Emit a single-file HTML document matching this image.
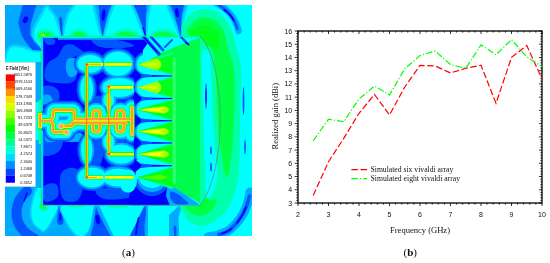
<!DOCTYPE html>
<html><head><meta charset="utf-8"><title>Figure</title>
<style>
html,body{margin:0;padding:0;background:#fff;}
svg{display:block;}
.tk{font-family:"Liberation Sans",sans-serif;font-size:7px;fill:#111;}
.lg{font-family:"Liberation Serif",serif;font-size:8.2px;fill:#111;}
.ax{font-family:"Liberation Serif",serif;font-size:9px;fill:#111;}
.cap{font-family:"Liberation Serif",serif;font-size:11px;fill:#111;}
.lt{font-family:"Liberation Sans",sans-serif;font-size:3.9px;fill:#111;}
.lh{font-family:"Liberation Sans",sans-serif;font-size:4.6px;font-weight:bold;fill:#111;}
</style></head><body>
<svg width="550" height="263" viewBox="0 0 550 263">
<defs>
<clipPath id="fc"><rect x="5" y="5" width="247" height="231"/></clipPath>
<clipPath id="sc"><rect x="41" y="36" width="159" height="169.5"/></clipPath>
<filter id="b0" x="-5%" y="-5%" width="110%" height="110%"><feGaussianBlur stdDeviation="0.45"/></filter>
<filter id="b1" x="-20%" y="-20%" width="140%" height="140%"><feGaussianBlur stdDeviation="0.6"/></filter>
<filter id="b2" x="-20%" y="-20%" width="140%" height="140%"><feGaussianBlur stdDeviation="1.2"/></filter>
</defs>
<rect width="550" height="263" fill="#fff"/>
<g clip-path="url(#fc)">
<g filter="url(#b0)">
<rect x="0" y="0" width="260" height="245" fill="#00ffff" />
<path d="M0 0C7.8 -10.7 39.7 -1.5 47 0C54.3 1.5 45.3 5.9 44 9C42.7 12.1 40.6 16 39.2 18.7C37.8 21.4 36.5 23.1 35.5 25C34.5 26.9 33.9 28 33.5 30C33.1 32 32.8 34.8 33.2 37C33.6 39.2 34.6 40.9 36 43C37.4 45.1 41.3 48.5 41.5 49.8C41.7 51.1 38.5 50.9 37 51C35.5 51.1 34.7 51.2 32.4 50.6C30.1 50 26.7 48 23.3 47.2C19.9 46.4 14.5 45.4 11.8 46C9.1 46.6 8.4 48.6 7.3 50.6C6.2 52.6 6.2 55.8 5 58C3.8 60.2 0.8 73.7 0 64C-0.8 54.3 -7.8 10.7 0 0Z" fill="#00aaff" stroke="#00d4ff" stroke-width="2.4" stroke-linejoin="round"/>
<path d="M23.8 3L36.5 3L33 14L30 25L29.6 35L33.4 41L39.2 47.2L41 50.2L32.4 49.5L26 42L22 35L18.7 22.7Z" fill="#0055ff" stroke="#0055ff" stroke-width="1" stroke-linejoin="round"/>
<ellipse cx="25.5" cy="19.8" rx="2.5" ry="3.6" fill="#0000ff" transform="rotate(24 25.5 19.8)"/>
<rect x="0" y="186" width="36" height="60" fill="#00aaff" />
<path d="M48 3C51.1 0.8 70.1 1.2 73.4 3C76.7 4.8 69.5 10.2 68 14C66.5 17.8 65.5 22.3 64.6 26C63.7 29.7 62.9 34.7 62.4 36.4C61.9 38.1 62.2 38 61.6 36.4C61 34.8 60.1 30.4 59 27C57.9 23.6 56.8 20 55 16C53.2 12 44.9 5.2 48 3Z" fill="#00aaff" stroke="#00d4ff" stroke-width="2.4" stroke-linejoin="round"/>
<path d="M60 17C60.4 16.3 61.6 16.8 62 20C62.4 23.2 62.7 33.3 62.6 36C62.5 38.7 62.1 38 61.6 36C61.1 34 59.9 27.2 59.6 24C59.3 20.8 59.6 17.7 60 17Z" fill="#0055ff" />
<path d="M95 3C97.8 0.8 110.7 0.7 113 3C115.3 5.3 110.2 12.7 109 17C107.8 21.3 106.5 25.8 105.5 29C104.5 32.2 103.7 35.2 103.2 36.4C102.7 37.6 103.1 37.8 102.4 36.4C101.7 35 100.1 31.4 99 28C97.9 24.6 96.7 20.2 96 16C95.3 11.8 92.2 5.2 95 3Z" fill="#00aaff" stroke="#00d4ff" stroke-width="2.4" stroke-linejoin="round"/>
<path d="M99.6 3C101.5 1.2 109.3 1 110.6 3C111.9 5 108.6 10.8 107.6 15C106.6 19.2 105.4 24.5 104.6 28C103.8 31.5 103.4 34.8 103 36.2C102.6 37.6 102.8 37.9 102.4 36.2C102 34.5 101.1 29.7 100.6 26C100.1 22.3 99.6 17.8 99.4 14C99.2 10.2 97.7 4.8 99.6 3Z" fill="#0055ff" />
<ellipse cx="103.6" cy="14.9" rx="1.9" ry="6" fill="#0000ff" transform="rotate(6 103.6 14.9)"/>
<path d="M132.5 3C134.8 1.2 147 0.5 149.5 3C152 5.5 148.1 13.5 147.6 18C147.1 22.5 146.7 26.9 146.4 30C146.1 33.1 146 35.3 145.8 36.4C145.6 37.5 145.8 38 145 36.4C144.2 34.8 142.5 30.7 141 27C139.5 23.3 137.4 18 136 14C134.6 10 130.2 4.8 132.5 3Z" fill="#00aaff" stroke="#00d4ff" stroke-width="2.4" stroke-linejoin="round"/>
<path d="M134 3C135.4 1.5 143.6 0.5 145.6 3C147.6 5.5 145.8 12.5 145.8 18C145.8 23.5 145.9 33.2 145.8 36.2C145.7 39.2 145.7 38.2 145 36.2C144.3 34.2 142.9 28 141.6 24C140.3 20 138.3 15.5 137 12C135.7 8.5 132.6 4.5 134 3Z" fill="#0055ff" />
<path d="M142.4 27.8C142.2 26.5 143.5 26.7 144 28C144.5 29.3 145.4 34.3 145.6 35.6C145.8 36.9 145.5 37.1 145 35.8C144.5 34.5 142.6 29.1 142.4 27.8Z" fill="#0000ff" />
<path d="M168 3C170.5 1.2 183.3 0.8 186 3C188.7 5.2 184.7 11.8 184 16C183.3 20.2 182.5 24.6 182 28C181.5 31.4 181.2 35 180.9 36.4C180.6 37.8 180.9 38.1 180.1 36.4C179.3 34.7 177.5 29.7 176 26C174.5 22.3 172.3 17.8 171 14C169.7 10.2 165.5 4.8 168 3Z" fill="#00aaff" stroke="#00d4ff" stroke-width="2.4" stroke-linejoin="round"/>
<path d="M171 3C172.7 1.5 181.7 0.8 183.5 3C185.3 5.2 182 10.5 181.6 16C181.2 21.5 181 32.8 180.8 36.2C180.6 39.6 180.8 38.2 180.2 36.2C179.6 34.2 178.1 28 177 24C175.9 20 174.5 15.5 173.5 12C172.5 8.5 169.3 4.5 171 3Z" fill="#0055ff" />
<ellipse cx="177" cy="12.6" rx="1.8" ry="5" fill="#0000ff" transform="rotate(-8 177 12.6)"/>
<path d="M182 37C182.8 7.3 183.2 26.1 185 22C186.8 17.9 189.5 14.7 193 12.5C196.5 10.3 201.5 8.8 206 9C210.5 9.2 216 11 220 14C224 17 227.2 21.3 230 27C232.8 32.7 234.8 40.8 236.6 48C238.4 55.2 240.4 61.3 241 70C241.6 78.7 240.6 90 240.4 100C240.2 110 240.1 120.8 240 130C239.9 139.2 239.9 146.7 239.6 155C239.3 163.3 239.4 172 238 180C236.6 188 233.7 197.2 231 203C228.3 208.8 225.3 211.7 222 215C218.7 218.3 214.7 221.2 211 223C207.3 224.8 203.4 226.4 199.6 226C195.8 225.6 190.7 223 188 220.5C185.3 218 184.7 214.4 183.4 211C182.1 207.6 180.2 229 180 200C179.8 171 181.2 66.7 182 37Z" fill="#00ffaa" />
<path d="M188 37C185.7 26.2 188.8 28.2 191 25C193.2 21.8 197.3 18.4 201 17.5C204.7 16.6 209.3 17.4 213 19.5C216.7 21.6 220.4 24.9 223 30C225.6 35.1 226.9 43.3 228.7 50C230.5 56.7 233 61.7 234 70C235 78.3 234.7 90 234.6 100C234.5 110 234 121.7 233.6 130C233.2 138.3 232.6 144 232 150C231.4 156 230.8 161.5 230 166C229.2 170.5 228.4 176.3 227.4 177C226.4 177.7 225.1 174.5 224 170C222.9 165.5 222.5 158.3 221 150C219.5 141.7 217.7 130 215 120C212.3 110 209.5 103.8 205 90C200.5 76.2 190.3 47.8 188 37Z" fill="#00ff44" />
<path d="M186 196C183.8 200.2 185.1 205.7 187 209C188.9 212.3 194.2 215.1 197.7 215.8C201.2 216.5 205.3 214.5 208 213C210.7 211.5 212.6 209.5 214 207C215.4 204.5 216.5 201.2 216.5 198C216.5 194.8 216.8 190.3 214 188C211.2 185.7 204.7 182.7 200 184C195.3 185.3 188.2 191.8 186 196Z" fill="#00ff44" />
<ellipse cx="204" cy="41" rx="15.5" ry="16" fill="#00ff1e" />
<ellipse cx="198" cy="195" rx="11" ry="12" fill="#00ff1e" />
<path d="M198 50C199.5 25.7 204.5 45.7 207 46C209.5 46.3 211.5 46.3 213 52C214.5 57.7 215.2 68.7 216 80C216.8 91.3 216.8 108.3 217.5 120C218.2 131.7 219.3 140.3 220 150C220.7 159.7 222.2 170 221.5 178C220.8 186 218.6 194.5 216 198C213.4 201.5 209 200 206 199C203 198 199.3 216.8 198 192C196.7 167.2 196.5 74.3 198 50Z" fill="#00ffaa" />
<path d="M202 56C202.6 47.7 205.2 50.2 206.5 50C207.8 49.8 209.2 49.2 210 55C210.8 60.8 211.2 75 211.6 85C212 95 211.9 104.2 212.6 115C213.2 125.8 214.7 139.8 215.5 150C216.3 160.2 217.8 169 217.4 176C217 183 214.8 188.8 213 192C211.2 195.2 207.9 202 206.5 195C205.1 188 205.1 165.8 204.5 150C203.9 134.2 203.4 115.7 203 100C202.6 84.3 201.4 64.3 202 56Z" fill="#00ffff" />
<path d="M216 3 C227 8 236 18 238.6 31" fill="none" stroke="#00aaff" stroke-width="6.4" stroke-linecap="round"/>
<path d="M219 5.5 C228 10 235 19 237.4 29" fill="none" stroke="#0055ff" stroke-width="2.6" stroke-linecap="round"/>
<path d="M224 10 C229 13 232 17 234 21" fill="none" stroke="#0000ff" stroke-width="1.6" stroke-linecap="round"/>
<ellipse cx="206" cy="96" rx="0.9" ry="13" fill="#0055ff" />
<ellipse cx="206" cy="96" rx="0.5" ry="8" fill="#0000ff" />
<ellipse cx="211" cy="150.5" rx="0.9" ry="4" fill="#0055ff" />
<ellipse cx="211" cy="167" rx="0.9" ry="4.5" fill="#0055ff" />
<ellipse cx="243.5" cy="101" rx="0.9" ry="14" fill="#0055ff" />
<ellipse cx="245" cy="147" rx="0.9" ry="7.5" fill="#0055ff" />
<path d="M250 192 C248 208 240 222 228 231 C222 234 216 236 208 237" fill="none" stroke="#00aaff" stroke-width="9" stroke-linecap="round"/>
<path d="M249.5 196 C247 209 240 221 229.5 230.5 C225 233 222 234 219 234.6" fill="none" stroke="#0055ff" stroke-width="3.6" stroke-linecap="round"/>
<path d="M246 207 C244 213 241 218 237 223" fill="none" stroke="#0000ff" stroke-width="1.6" stroke-linecap="round"/>
<path d="M231 229 C228 231 225 232.6 222 233.6" fill="none" stroke="#0000ff" stroke-width="1.6" stroke-linecap="round"/>
<path d="M0 205.5L147.5 205.5L147.5 240L0 240Z" fill="#00aaff" />
<path d="M169 240L169 215L178.6 206L181 208L178.4 218L179.4 240Z" fill="#00aaff" />
<path d="M175.4 240 L175 227" fill="none" stroke="#0055ff" stroke-width="2.6" stroke-linecap="round"/>
<path d="M27 191 C19 198 14.5 208 17.5 220 C20 229 27 235 35 239" fill="none" stroke="#0055ff" stroke-width="10" stroke-linecap="round"/>
<path d="M27 193 C26 196 25 198 24 201" fill="none" stroke="#0000ff" stroke-width="1.4" stroke-linecap="round"/>
<path d="M36 188C34.4 188.7 33 195.7 32 200C31 204.3 29.8 210 30 214C30.2 218 31.6 221.5 33 224C34.4 226.5 36.8 227.7 38.5 229C40.2 230.3 41.8 232.3 43.5 232C45.2 231.7 47.1 229.7 49 227C50.9 224.3 53.4 219.6 55 216C56.6 212.4 59.4 208.2 58.6 205.5C57.8 202.8 52.9 201.6 50 200C47.1 198.4 43.8 198 41.5 196C39.2 194 37.6 187.3 36 188Z" fill="#00d4ff" />
<path d="M37 191C35.6 191.7 34.3 197.2 33.4 201C32.5 204.8 31.4 210.3 31.6 214C31.8 217.7 33.1 221.1 34.4 223.4C35.7 225.7 37.9 226.8 39.4 228C40.9 229.2 42 230.8 43.5 230.4C45 230 46.6 228.2 48.4 225.6C50.1 223 52.5 218.3 54 215C55.5 211.7 58.2 207.9 57.4 205.5C56.6 203.1 51.6 202 49 200.6C46.4 199.2 43.5 198.6 41.5 197C39.5 195.4 38.4 190.3 37 191Z" fill="#00ffff" />
<path d="M59.4 205.8C60 205.8 60.9 209.3 61.6 212C62.3 214.7 63.7 219.8 63.5 222C63.3 224.2 61.5 225 60.5 225C59.5 225 57.6 224.2 57.2 222C56.8 219.8 57.6 214.7 58 212C58.4 209.3 58.8 205.8 59.4 205.8Z" fill="#0055ff" />
<ellipse cx="60.4" cy="216.5" rx="1.1" ry="4.2" fill="#0000ff" />
<path d="M61.5 205C56.3 207.5 62.8 215.5 64.5 220C66.2 224.5 69.2 229 72 232C74.8 235 78.2 238.2 81 238C83.8 237.8 86.9 234.3 89 231C91.1 227.7 92.4 222.3 93.5 218C94.6 213.7 100.8 207.2 95.5 205C90.2 202.8 66.7 202.5 61.5 205Z" fill="#00d4ff" />
<path d="M62.8 205C58 207.4 64.1 215.3 65.8 219.6C67.5 223.9 70.5 228.2 73 231C75.5 233.8 78.5 236.6 81 236.4C83.5 236.2 86.3 233.1 88.2 230C90.1 226.9 91.6 221.8 92.6 217.6C93.6 213.4 99.4 207.1 94.4 205C89.4 202.9 67.6 202.6 62.8 205Z" fill="#00ffff" />
<path d="M94 205.5L88 240L115.6 240L99 205.5Z" fill="#00aaff" />
<path d="M96 208C96.7 206 96.7 209.3 98 212C99.3 214.7 101.9 219.3 104 224C106.1 228.7 112.7 237.3 110.6 240C108.5 242.7 94.2 242.7 91.4 240C88.6 237.3 92.8 229.3 93.6 224C94.4 218.7 95.3 210 96 208Z" fill="#0055ff" />
<ellipse cx="97.8" cy="219.6" rx="2.2" ry="5" fill="#0000ff" transform="rotate(-14 97.8 219.6)"/>
<path d="M99 205.5L115.6 240L128 240L144.4 205.5Z" fill="#00ffff" />
<path d="M145 205.5L129 240L147.4 240L150 205.5Z" fill="#00aaff" />
<path d="M145 206C145.8 205.8 146.1 208.7 146 212C145.9 215.3 144.9 221.3 144.5 226C144.1 230.7 146.1 237.7 143.6 240C141.1 242.3 130.9 242.7 129.6 240C128.3 237.3 134.1 228.5 136 224C137.9 219.5 139.5 216 141 213C142.5 210 144.2 206.2 145 206Z" fill="#0055ff" />
<path d="M138.6 218 C137.4 223 136.4 228 136 234" fill="none" stroke="#0000ff" stroke-width="1.8" stroke-linecap="round"/>
<rect x="148" y="205.5" width="20.5" height="36" fill="#00ffff" />
<ellipse cx="45.5" cy="36.4" rx="9.5" ry="7.4" fill="#00ffaa" />
<ellipse cx="45.5" cy="36.4" rx="6.84" ry="4.6" fill="#00ff44" />
<ellipse cx="79" cy="36.4" rx="9" ry="7.4" fill="#00ffaa" />
<ellipse cx="79" cy="36.4" rx="6.4799999999999995" ry="4.6" fill="#00ff44" />
<ellipse cx="126" cy="36.4" rx="13.4" ry="7.4" fill="#00ffaa" />
<ellipse cx="126" cy="36.4" rx="9.648" ry="4.6" fill="#00ff44" />
<ellipse cx="163.5" cy="36.4" rx="13.5" ry="7.4" fill="#00ffaa" />
<ellipse cx="163.5" cy="36.4" rx="9.719999999999999" ry="4.6" fill="#00ff44" />
<ellipse cx="43" cy="36" rx="2.4" ry="2.2" fill="#aaff00" />
<ellipse cx="44" cy="205.5" rx="5" ry="6" fill="#00ffaa" />
<ellipse cx="43.5" cy="205.5" rx="3" ry="3.6" fill="#00ff44" />
<ellipse cx="118" cy="205.5" rx="11" ry="3" fill="#00ffaa" />
<ellipse cx="78" cy="205.5" rx="9" ry="2" fill="#00ffaa" />
<g clip-path="url(#sc)">
<rect x="41" y="36" width="159" height="169.5" fill="#0000ff" />
<path d="M44 38C44.5 36.8 48.2 37.2 50 37.5C51.8 37.8 54.3 38.9 55 40C55.7 41.1 55.3 43.2 54 44C52.7 44.8 48.7 45.5 47 44.5C45.3 43.5 43.5 39.2 44 38Z" fill="#0055ff" />
<path d="M64 46C66.3 44.1 69.2 43.8 72 44.5C74.8 45.2 79 48.4 81 50C83 51.6 84.8 53 84 54C83.2 55 78.3 55 76 56C73.7 57 70 58.3 70 60C70 61.7 75 63 76 66C77 69 77 75.2 76 78C75 80.8 73.3 82.2 70 83C66.7 83.8 60 83.5 56 83C52 82.5 47.8 82.2 46 80C44.2 77.8 44.5 73 45 70C45.5 67 46.8 64.3 49 62C51.2 59.7 55.5 58.7 58 56C60.5 53.3 61.7 47.9 64 46Z" fill="#0055ff" />
<path d="M42 88C43.7 85 49.2 85.3 52 86C54.8 86.7 58 89.5 59 92C60 94.5 59.5 98.8 58 101C56.5 103.2 52.7 104.5 50 105C47.3 105.5 43.3 106.8 42 104C40.7 101.2 40.3 91 42 88Z" fill="#0055ff" />
<path d="M42 134C43.3 130.5 47 132.8 50 133C53 133.2 57.8 133.7 60 135C62.2 136.3 63 138.5 63 141C63 143.5 61.8 147.7 60 150C58.2 152.3 55 154.3 52 155C49 155.7 43.7 157.5 42 154C40.3 150.5 40.7 137.5 42 134Z" fill="#0055ff" />
<path d="M62 172C64.3 169 70.5 167.3 74 168C77.5 168.7 81.7 172 83 176C84.3 180 83.2 187.8 82 192C80.8 196.2 79 199.7 76 201C73 202.3 66.7 202.5 64 200C61.3 197.5 60.3 190.7 60 186C59.7 181.3 59.7 175 62 172Z" fill="#0055ff" />
<path d="M92 40C93.7 38.7 104.3 38.7 110 39C115.7 39.3 122 40.8 126 42C130 43.2 135 45 134 46C133 47 125.7 47.8 120 48C114.3 48.2 104.7 48.3 100 47C95.3 45.7 90.3 41.3 92 40Z" fill="#0055ff" />
<path d="M92 141C93.2 136.8 98 137.5 100 139C102 140.5 104 145.7 104 150C104 154.3 101.8 162.7 100 165C98.2 167.3 94.3 168 93 164C91.7 160 90.8 145.2 92 141Z" fill="#0055ff" />
<path d="M96 190C98.3 188.2 111.3 187.7 118 188C124.7 188.3 134.3 190.3 136 192C137.7 193.7 133.3 196.8 128 198C122.7 199.2 109.3 200.3 104 199C98.7 197.7 93.7 191.8 96 190Z" fill="#0055ff" />
<path d="M44 186C46.2 183.7 53.7 182.3 56 184C58.3 185.7 59.3 193 58 196C56.7 199 50.5 201.7 48 202C45.5 202.3 43.7 200.7 43 198C42.3 195.3 41.8 188.3 44 186Z" fill="#0055ff" />
<path d="M93 98C94.2 96.3 98.3 95.2 100 96C101.7 96.8 103.3 101 103 103C102.7 105 99.7 107.5 98 108C96.3 108.5 93.8 107.7 93 106C92.2 104.3 91.8 99.7 93 98Z" fill="#0055ff" />
<path d="M67 60C68.3 58 72.2 57.3 74 58C75.8 58.7 77.5 61.3 78 64C78.5 66.7 78.3 71.8 77 74C75.7 76.2 71.8 77.7 70 77C68.2 76.3 66.5 72.8 66 70C65.5 67.2 65.7 62 67 60Z" fill="#00aaff" />
<path d="M45.6 134.5C47.6 133.2 56.6 133.6 59 134.5C61.4 135.4 62 138.8 60 140C58 141.2 49.4 142.9 47 142C44.6 141.1 43.6 135.8 45.6 134.5Z" fill="#00aaff" />
<path d="M63 133C65.8 131.7 78 131.7 81 133C84 134.3 83.8 139.7 81 141C78.2 142.3 67 142.3 64 141C61 139.7 60.2 134.3 63 133Z" fill="#00aaff" />
<path d="M42 96C43.3 94.5 48.3 94 50 95C51.7 96 53.3 100.5 52 102C50.7 103.5 43.7 105 42 104C40.3 103 40.7 97.5 42 96Z" fill="#00aaff" />
<rect x="58" y="36.4" width="142" height="3.4" fill="#00aaff" />
<rect x="41" y="36" width="159" height="1.8" fill="#00ffff" />
<rect x="41" y="36" width="2.2" height="170" fill="#00d4ff" />
<ellipse cx="90" cy="63.7" rx="16.1" ry="12.6" fill="#0055ff" />
<ellipse cx="118" cy="63.7" rx="18.0" ry="15.6" fill="#0055ff" />
<ellipse cx="86.7" cy="89" rx="10.0" ry="16.6" fill="#0055ff" />
<ellipse cx="119" cy="87.5" rx="20.1" ry="13.1" fill="#0055ff" />
<ellipse cx="108.8" cy="100" rx="9.1" ry="10.6" fill="#0055ff" />
<ellipse cx="86.7" cy="150" rx="9.2" ry="16.6" fill="#0055ff" />
<ellipse cx="92" cy="177.4" rx="17.6" ry="13.6" fill="#0055ff" />
<ellipse cx="118" cy="177.4" rx="18.6" ry="12.6" fill="#0055ff" />
<ellipse cx="121" cy="154.2" rx="17.6" ry="13.2" fill="#0055ff" />
<ellipse cx="108.8" cy="142" rx="9.1" ry="11.6" fill="#0055ff" />
<path d="M41 120.8 H51 M74.4 119.2 H132 M72 123 H126 M51 120.8 L53 117 V112.4 Q53 110.2 55 110.2 H72.4 Q74.4 110.2 74.4 112.6 V119.2 M51 120.8 L53 124.6 V130 Q53 132 55 132 H66 M61 126.2 H70 Q73 126 74 123 M92.8 119.2 V113.6 Q92.8 110.4 96.3 110.4 Q99.8 110.4 99.8 113.6 V119.2 M92.8 123 V128.6 Q92.8 131.8 96.3 131.8 Q99.8 131.8 99.8 128.6 V123 M116.8 119.2 V113.6 Q116.8 110.4 120.3 110.4 Q123.8 110.4 123.8 113.6 V119.2 M116.8 123 V128.6 Q116.8 131.8 120.3 131.8 Q123.8 131.8 123.8 128.6 V123 M132 107.4 V134.6 " fill="none" stroke="#0055ff" stroke-width="19" stroke-linecap="round" stroke-linejoin="round"/>
<ellipse cx="90" cy="63.7" rx="14.3" ry="10.8" fill="#00aaff" />
<ellipse cx="118" cy="63.7" rx="16.2" ry="13.8" fill="#00aaff" />
<ellipse cx="86.7" cy="89" rx="8.200000000000001" ry="14.8" fill="#00aaff" />
<ellipse cx="119" cy="87.5" rx="18.3" ry="11.3" fill="#00aaff" />
<ellipse cx="108.8" cy="100" rx="7.3" ry="8.8" fill="#00aaff" />
<ellipse cx="86.7" cy="150" rx="7.3999999999999995" ry="14.8" fill="#00aaff" />
<ellipse cx="92" cy="177.4" rx="15.8" ry="11.8" fill="#00aaff" />
<ellipse cx="118" cy="177.4" rx="16.8" ry="10.8" fill="#00aaff" />
<ellipse cx="121" cy="154.2" rx="15.8" ry="11.4" fill="#00aaff" />
<ellipse cx="108.8" cy="142" rx="7.3" ry="9.8" fill="#00aaff" />
<path d="M41 120.8 H51 M74.4 119.2 H132 M72 123 H126 M51 120.8 L53 117 V112.4 Q53 110.2 55 110.2 H72.4 Q74.4 110.2 74.4 112.6 V119.2 M51 120.8 L53 124.6 V130 Q53 132 55 132 H66 M61 126.2 H70 Q73 126 74 123 M92.8 119.2 V113.6 Q92.8 110.4 96.3 110.4 Q99.8 110.4 99.8 113.6 V119.2 M92.8 123 V128.6 Q92.8 131.8 96.3 131.8 Q99.8 131.8 99.8 128.6 V123 M116.8 119.2 V113.6 Q116.8 110.4 120.3 110.4 Q123.8 110.4 123.8 113.6 V119.2 M116.8 123 V128.6 Q116.8 131.8 120.3 131.8 Q123.8 131.8 123.8 128.6 V123 M132 107.4 V134.6 " fill="none" stroke="#00aaff" stroke-width="15.5" stroke-linecap="round" stroke-linejoin="round"/>
<ellipse cx="90" cy="63.7" rx="12.5" ry="9" fill="#00ffff" />
<ellipse cx="118" cy="63.7" rx="14.4" ry="12" fill="#00ffff" />
<ellipse cx="86.7" cy="89" rx="6.4" ry="13" fill="#00ffff" />
<ellipse cx="119" cy="87.5" rx="16.5" ry="9.5" fill="#00ffff" />
<ellipse cx="108.8" cy="100" rx="5.5" ry="7" fill="#00ffff" />
<ellipse cx="86.7" cy="150" rx="5.6" ry="13" fill="#00ffff" />
<ellipse cx="92" cy="177.4" rx="14" ry="10" fill="#00ffff" />
<ellipse cx="118" cy="177.4" rx="15" ry="9" fill="#00ffff" />
<ellipse cx="121" cy="154.2" rx="14" ry="9.6" fill="#00ffff" />
<ellipse cx="108.8" cy="142" rx="5.5" ry="8" fill="#00ffff" />
<path d="M41 120.8 H51 M74.4 119.2 H132 M72 123 H126 M51 120.8 L53 117 V112.4 Q53 110.2 55 110.2 H72.4 Q74.4 110.2 74.4 112.6 V119.2 M51 120.8 L53 124.6 V130 Q53 132 55 132 H66 M61 126.2 H70 Q73 126 74 123 M92.8 119.2 V113.6 Q92.8 110.4 96.3 110.4 Q99.8 110.4 99.8 113.6 V119.2 M92.8 123 V128.6 Q92.8 131.8 96.3 131.8 Q99.8 131.8 99.8 128.6 V123 M116.8 119.2 V113.6 Q116.8 110.4 120.3 110.4 Q123.8 110.4 123.8 113.6 V119.2 M116.8 123 V128.6 Q116.8 131.8 120.3 131.8 Q123.8 131.8 123.8 128.6 V123 M132 107.4 V134.6 " fill="none" stroke="#00ffff" stroke-width="12" stroke-linecap="round" stroke-linejoin="round"/>
<ellipse cx="148" cy="64.4" rx="14.4" ry="13.4" fill="#0055ff" />
<ellipse cx="148" cy="87.4" rx="14.4" ry="13.4" fill="#0055ff" />
<ellipse cx="148" cy="109.8" rx="14.4" ry="13.4" fill="#0055ff" />
<ellipse cx="148" cy="131.6" rx="14.4" ry="13.4" fill="#0055ff" />
<ellipse cx="148" cy="154.2" rx="14.4" ry="13.4" fill="#0055ff" />
<ellipse cx="148" cy="177.4" rx="14.4" ry="13.4" fill="#0055ff" />
<ellipse cx="148" cy="64.4" rx="12.8" ry="11.8" fill="#00aaff" />
<ellipse cx="148" cy="87.4" rx="12.8" ry="11.8" fill="#00aaff" />
<ellipse cx="148" cy="109.8" rx="12.8" ry="11.8" fill="#00aaff" />
<ellipse cx="148" cy="131.6" rx="12.8" ry="11.8" fill="#00aaff" />
<ellipse cx="148" cy="154.2" rx="12.8" ry="11.8" fill="#00aaff" />
<ellipse cx="148" cy="177.4" rx="12.8" ry="11.8" fill="#00aaff" />
<path d="M143 50L150 40L200 38L200 205.5L172 205.5L166 190L143 186Z" fill="#00ffff" />
<ellipse cx="148" cy="64.4" rx="11.2" ry="10.4" fill="#00ffff" />
<ellipse cx="148" cy="87.4" rx="11.2" ry="10.4" fill="#00ffff" />
<ellipse cx="148" cy="109.8" rx="11.2" ry="10.4" fill="#00ffff" />
<ellipse cx="148" cy="131.6" rx="11.2" ry="10.4" fill="#00ffff" />
<ellipse cx="148" cy="154.2" rx="11.2" ry="10.4" fill="#00ffff" />
<ellipse cx="148" cy="177.4" rx="11.2" ry="10.4" fill="#00ffff" />
<path d="M149 38L200 38L200 60L147 54Z" fill="#00ffff" />
<path d="M150 60L160 53.4L175 47L190.6 41L200 37.5L200 204L198.5 202L169 185L173 178L173 70L160 66Z" fill="#00fb50" />
<path d="M134 186C136.7 182.3 144.3 185 150 185C155.7 185 164 185.2 168 186C172 186.8 171 188 174 190C177 192 182.2 195.7 186 198C189.8 200.3 195.2 202.5 197 204C198.8 205.5 207.5 206.5 197 207C186.5 207.5 144.5 210.5 134 207C123.5 203.5 131.3 189.7 134 186Z" fill="#0000ff" />
<path d="M167 187.4L172 186L186 195L198 203.4L198 206L170 206L166 196Z" fill="#00aaff" />
<path d="M170 192C170.8 191 173.7 191.8 176 193C178.3 194.2 182 197.2 184 199C186 200.8 189.3 203.2 188 204C186.7 204.8 178.8 204.8 176 204C173.2 203.2 172 201 171 199C170 197 169.2 193 170 192Z" fill="#0055ff" />
<ellipse cx="152" cy="179" rx="17.5" ry="17" fill="#0055ff" />
<ellipse cx="152" cy="179" rx="14.8" ry="13" fill="#00aaff" />
<ellipse cx="152" cy="179" rx="12.6" ry="9" fill="#00ffff" />
<ellipse cx="128" cy="181" rx="9" ry="11.5" fill="#00ffff" />
<path d="M136 160L176 160L176 179L136 179Z" fill="#00ffff" />
<path d="M139.6 64.4L173 52.2L173 76.6Z" fill="#00ffb4" />
<path d="M139.6 87.4L173 75.2L173 99.6Z" fill="#00ffb4" />
<path d="M139.6 109.8L173 97.6L173 122Z" fill="#00ffb4" />
<path d="M139.6 131.6L173 119.4L173 143.8Z" fill="#00ffb4" />
<path d="M139.6 154.2L173 142L173 166.4Z" fill="#00ffb4" />
<path d="M139.6 177.4L173 165.2L173 189.6Z" fill="#00ffb4" />
<path d="M136.6 64.4L173 54.5L174.5 53L174.5 75.8L173 74.3Z" fill="#00ff1e" />
<path d="M136.6 87.4L173 77.5L174.5 76L174.5 98.8L173 97.3Z" fill="#00ff1e" />
<path d="M136.6 109.8L173 99.9L174.5 98.4L174.5 121.2L173 119.7Z" fill="#00ff1e" />
<path d="M136.6 131.6L173 121.7L174.5 120.2L174.5 143L173 141.5Z" fill="#00ff1e" />
<path d="M136.6 154.2L173 144.3L174.5 142.8L174.5 165.6L173 164.1Z" fill="#00ff1e" />
<path d="M136.6 177.4L173 167.5L174.5 166L174.5 188.8L173 187.3Z" fill="#00ff1e" />
<rect x="172.6" y="58" width="3.2" height="126" fill="#2aff6c" filter="url(#b1)"/>
<path d="M137.6 64.4L147 61.4L157 58.2L160.5 61.4L161.5 64.4L160.5 67.4L157 70.6L147 67.4Z" fill="#aaff00" />
<path d="M138.6 64.4L148 63.4L156 63L158 64.4L156 65.8L148 65.4Z" fill="#d0ff00" />
<path d="M137.6 87.4L147 84.4L157 81.2L160.5 84.4L161.5 87.4L160.5 90.4L157 93.6L147 90.4Z" fill="#aaff00" />
<path d="M138.6 87.4L148 86.4L156 86L158 87.4L156 88.8L148 88.4Z" fill="#d0ff00" />
<path d="M137.6 109.8L152 107.4L164 106.2L168 107.8L169 109.8L168 111.8L164 113.4L152 112.2Z" fill="#aaff00" />
<path d="M139.1 109.8L150 108.6L158 108.2L164.5 107.2L160 109.8L164.5 112.4L158 111.4L150 111Z" fill="#ffff00" />
<path d="M137.6 131.6L152 129.2L164 128L168 129.6L169 131.6L168 133.6L164 135.2L152 134Z" fill="#aaff00" />
<path d="M139.1 131.6L150 130.4L158 130L164.5 129L160 131.6L164.5 134.2L158 133.2L150 132.8Z" fill="#ffff00" />
<path d="M137.6 154.2L152 151.8L164 150.6L168 152.2L169 154.2L168 156.2L164 157.8L152 156.6Z" fill="#aaff00" />
<path d="M139.1 154.2L150 153L158 152.6L164.5 151.6L160 154.2L164.5 156.8L158 155.8L150 155.4Z" fill="#ffff00" />
<path d="M141.6 177.4L160 174.8L168 177.4L160 180Z" fill="#55ff00" />
<path d="M134.6 68.9L138 71.9L141.4 74.7L172 75.4L172 76.4L141.4 77.1L138 79.9L134.6 82.9L133.4 75.9Z" fill="#0000ff" />
<path d="M141 73.7L152 75L152 76.8L141 78.1Z" fill="#0055ff" />
<path d="M134.6 91.6L138 94.6L141.4 97.4L172 98.1L172 99.1L141.4 99.8L138 102.6L134.6 105.6L133.4 98.6Z" fill="#0000ff" />
<path d="M141 96.4L152 97.7L152 99.5L141 100.8Z" fill="#0055ff" />
<path d="M134.6 113.7L138 116.7L141.4 119.5L172 120.2L172 121.2L141.4 121.9L138 124.7L134.6 127.7L133.4 120.7Z" fill="#0000ff" />
<path d="M141 118.5L152 119.8L152 121.6L141 122.9Z" fill="#0055ff" />
<path d="M134.6 135.9L138 138.9L141.4 141.7L172 142.4L172 143.4L141.4 144.1L138 146.9L134.6 149.9L133.4 142.9Z" fill="#0000ff" />
<path d="M141 140.7L152 142L152 143.8L141 145.1Z" fill="#0055ff" />
<path d="M134.6 158.8L138 161.8L141.4 164.6L172 165.3L172 166.3L141.4 167L138 169.8L134.6 172.8L133.4 165.8Z" fill="#0000ff" />
<path d="M141 163.6L152 164.9L152 166.7L141 168Z" fill="#0055ff" />
<path d="M142 35 L159 54" fill="none" stroke="#0055ff" stroke-width="3.4" stroke-linecap="round"/>
<path d="M143 36 L157 52" fill="none" stroke="#0000ff" stroke-width="1.6" stroke-linecap="round"/>
<path d="M151 37 L163 50" fill="none" stroke="#0055ff" stroke-width="2.6" stroke-linecap="round"/>
<path d="M153 39 L160 47" fill="none" stroke="#0000ff" stroke-width="1.0" stroke-linecap="round"/>
<path d="M172 40 L165 47" fill="none" stroke="#0055ff" stroke-width="2" stroke-linecap="round"/>
<path d="M184.5 41 L188.5 44.5" fill="none" stroke="#0000ff" stroke-width="1.8" stroke-linecap="round"/>
<path d="M181 37 L185 41" fill="none" stroke="#0055ff" stroke-width="2.4" stroke-linecap="round"/>
<path d="M86.7 64.4 V177.4 M108.8 86 V154.2" fill="none" stroke="#00ff1e" stroke-width="3.8" stroke-linecap="butt" stroke-linejoin="round"/>
<path d="M86.7 64.4 H103 M104.7 64.4 H131.6 M108.8 87.4 H133.2 M108.8 154.2 H134 M86.7 177.4 H103 M105 177.4 H133.6" fill="none" stroke="#00ff1e" stroke-width="4.4" stroke-linecap="butt" stroke-linejoin="round"/>
<path d="M41 120.8 H51 M74.4 119.2 H132 M72 123 H126 M51 120.8 L53 117 V112.4 Q53 110.2 55 110.2 H72.4 Q74.4 110.2 74.4 112.6 V119.2 M51 120.8 L53 124.6 V130 Q53 132 55 132 H66 M61 126.2 H70 Q73 126 74 123 M92.8 119.2 V113.6 Q92.8 110.4 96.3 110.4 Q99.8 110.4 99.8 113.6 V119.2 M92.8 123 V128.6 Q92.8 131.8 96.3 131.8 Q99.8 131.8 99.8 128.6 V123 M116.8 119.2 V113.6 Q116.8 110.4 120.3 110.4 Q123.8 110.4 123.8 113.6 V119.2 M116.8 123 V128.6 Q116.8 131.8 120.3 131.8 Q123.8 131.8 123.8 128.6 V123 M132 107.4 V134.6 " fill="none" stroke="#00ff1e" stroke-width="5.4" stroke-linecap="round" stroke-linejoin="round"/>
<ellipse cx="108.8" cy="102" rx="2.6" ry="9.5" fill="#88ff00" />
<ellipse cx="108.8" cy="141" rx="2.3" ry="11.5" fill="#88ff00" />
<path d="M86.7 64.4 V177.4 M108.8 86 V154.2" fill="none" stroke="#ffff00" stroke-width="2.0" stroke-linecap="butt" stroke-linejoin="round"/>
<path d="M86.7 64.4 H103 M104.7 64.4 H131.6 M108.8 87.4 H133.2 M108.8 154.2 H134 M86.7 177.4 H103 M105 177.4 H133.6" fill="none" stroke="#ffff00" stroke-width="2.6" stroke-linecap="butt" stroke-linejoin="round"/>
<path d="M41 120.8 H51 M74.4 119.2 H132 M72 123 H126 M51 120.8 L53 117 V112.4 Q53 110.2 55 110.2 H72.4 Q74.4 110.2 74.4 112.6 V119.2 M51 120.8 L53 124.6 V130 Q53 132 55 132 H66 M61 126.2 H70 Q73 126 74 123 M92.8 119.2 V113.6 Q92.8 110.4 96.3 110.4 Q99.8 110.4 99.8 113.6 V119.2 M92.8 123 V128.6 Q92.8 131.8 96.3 131.8 Q99.8 131.8 99.8 128.6 V123 M116.8 119.2 V113.6 Q116.8 110.4 120.3 110.4 Q123.8 110.4 123.8 113.6 V119.2 M116.8 123 V128.6 Q116.8 131.8 120.3 131.8 Q123.8 131.8 123.8 128.6 V123 M132 107.4 V134.6 " fill="none" stroke="#ffff00" stroke-width="3.5" stroke-linecap="round" stroke-linejoin="round"/>
<path d="M41 120.8 H51 M74.4 119.2 H132 M72 123 H126 M51 120.8 L53 117 V112.4 Q53 110.2 55 110.2 H72.4 Q74.4 110.2 74.4 112.6 V119.2 M51 120.8 L53 124.6 V130 Q53 132 55 132 H66 M61 126.2 H70 Q73 126 74 123 M92.8 119.2 V113.6 Q92.8 110.4 96.3 110.4 Q99.8 110.4 99.8 113.6 V119.2 M92.8 123 V128.6 Q92.8 131.8 96.3 131.8 Q99.8 131.8 99.8 128.6 V123 M116.8 119.2 V113.6 Q116.8 110.4 120.3 110.4 Q123.8 110.4 123.8 113.6 V119.2 M116.8 123 V128.6 Q116.8 131.8 120.3 131.8 Q123.8 131.8 123.8 128.6 V123 M132 107.4 V134.6 " fill="none" stroke="#ff9a3c" stroke-width="2.3" stroke-linecap="round" stroke-linejoin="round"/>
<path d="M86.7 64.4 V177.4 M108.8 86 V154.2" fill="none" stroke="#ff6a00" stroke-width="1.0" stroke-linecap="butt" stroke-linejoin="round"/>
<path d="M86.7 64.4 H101 M86.7 177.4 H97" fill="none" stroke="#ffaa00" stroke-width="1.0" stroke-linecap="butt" stroke-linejoin="round"/>
<ellipse cx="86.7" cy="64.6" rx="1.5" ry="1.5" fill="#ff3c14" stroke="#ffcc00" stroke-width="0.6"/>
<ellipse cx="86.7" cy="177.2" rx="1.5" ry="1.5" fill="#ff3c14" stroke="#ffcc00" stroke-width="0.6"/>
<ellipse cx="108.8" cy="86.6" rx="1.5" ry="1.5" fill="#ff3c14" stroke="#ffcc00" stroke-width="0.6"/>
<ellipse cx="108.8" cy="154" rx="1.5" ry="1.5" fill="#ff3c14" stroke="#ffcc00" stroke-width="0.6"/>
<ellipse cx="132" cy="108.2" rx="1.5" ry="1.5" fill="#ffa066" />
<ellipse cx="132" cy="133.6" rx="1.5" ry="1.5" fill="#ffa066" />
<ellipse cx="61.2" cy="126.2" rx="2.7" ry="2.7" fill="#ffa066" stroke="#ffff00" stroke-width="0.8"/>
<ellipse cx="66.5" cy="132.3" rx="2.7" ry="2.7" fill="#ffa066" stroke="#ffff00" stroke-width="0.8"/>
</g>
<path d="M41.2 50 V205.4" fill="none" stroke="#00ff44" stroke-width="1.0" />
<rect x="35" y="62" width="6" height="40" fill="#00aaff" />
<rect x="35" y="102" width="6" height="38" fill="#00ffff" />
<rect x="35" y="140" width="6" height="48" fill="#00aaff" />
<rect x="38.6" y="100" width="2.6" height="44" fill="#00ffaa" />
<rect x="37.4" y="112" width="4.6" height="17.4" fill="#00ff1e" />
<rect x="38.7" y="113.4" width="2.7" height="14.4" fill="#ff9a3c" stroke="#ffff00" stroke-width="0.8"/>
<path d="M40 120.8 H46" fill="none" stroke="#ff9a3c" stroke-width="2.3" />
<path d="M41 36.3 H200" fill="none" stroke="#00ff44" stroke-width="0.9" />
<path d="M41 205.3 H200" fill="none" stroke="#55cc88" stroke-width="0.8" />
<path d="M200 36.3 C226 62 228 170 200 205.3" fill="none" stroke="#5a8f6a" stroke-width="0.7" />
</g>
<rect x="4.6" y="62.3" width="30.8" height="124.4" fill="#ffffff" stroke="#c8c8c8" stroke-width="0.6"/>
<rect x="5.8" y="74.40" width="9.1" height="7.27" fill="#ff0000" />
<rect x="5.8" y="81.62" width="9.1" height="7.27" fill="#ff4800" />
<rect x="5.8" y="88.84" width="9.1" height="7.27" fill="#ff9100" />
<rect x="5.8" y="96.06" width="9.1" height="7.27" fill="#ffda00" />
<rect x="5.8" y="103.28" width="9.1" height="7.27" fill="#daff00" />
<rect x="5.8" y="110.50" width="9.1" height="7.27" fill="#91ff00" />
<rect x="5.8" y="117.72" width="9.1" height="7.27" fill="#48ff00" />
<rect x="5.8" y="124.94" width="9.1" height="7.27" fill="#00ff00" />
<rect x="5.8" y="132.16" width="9.1" height="7.27" fill="#00ff48" />
<rect x="5.8" y="139.38" width="9.1" height="7.27" fill="#00ff91" />
<rect x="5.8" y="146.60" width="9.1" height="7.27" fill="#00ffda" />
<rect x="5.8" y="153.82" width="9.1" height="7.27" fill="#00daff" />
<rect x="5.8" y="161.04" width="9.1" height="7.27" fill="#0091ff" />
<rect x="5.8" y="168.26" width="9.1" height="7.27" fill="#0048ff" />
<rect x="5.8" y="175.48" width="9.1" height="7.27" fill="#0000ff" />
<text x="5.9" y="70.1" class="lh" textLength="22.8" lengthAdjust="spacingAndGlyphs">E Field [V/m]</text>
<text x="32.2" y="75.90" text-anchor="end" class="lt">3651.5876</text>
<text x="32.2" y="83.12" text-anchor="end" class="lt">1976.1103</text>
<text x="32.2" y="90.34" text-anchor="end" class="lt">1069.4160</text>
<text x="32.2" y="97.56" text-anchor="end" class="lt">578.7349</text>
<text x="32.2" y="104.78" text-anchor="end" class="lt">313.1936</text>
<text x="32.2" y="112.00" text-anchor="end" class="lt">169.4908</text>
<text x="32.2" y="119.22" text-anchor="end" class="lt">91.7233</text>
<text x="32.2" y="126.44" text-anchor="end" class="lt">49.6378</text>
<text x="32.2" y="133.66" text-anchor="end" class="lt">26.8625</text>
<text x="32.2" y="140.88" text-anchor="end" class="lt">14.5372</text>
<text x="32.2" y="148.10" text-anchor="end" class="lt">7.8671</text>
<text x="32.2" y="155.32" text-anchor="end" class="lt">4.2574</text>
<text x="32.2" y="162.54" text-anchor="end" class="lt">2.3040</text>
<text x="32.2" y="169.76" text-anchor="end" class="lt">1.2468</text>
<text x="32.2" y="176.98" text-anchor="end" class="lt">0.6748</text>
<text x="32.2" y="184.20" text-anchor="end" class="lt">0.3652</text>
</g>
<g>
<rect x="298.0" y="31.0" width="244.0" height="172.0" fill="none" stroke="#000" stroke-width="1.3"/>
<path d="M298.00 203.0v3.0M298.00 31.0v3.0M304.10 203.0v1.7M304.10 31.0v1.6M310.20 203.0v1.7M310.20 31.0v1.6M316.30 203.0v1.7M316.30 31.0v1.6M322.40 203.0v1.7M322.40 31.0v1.6M328.50 203.0v3.0M328.50 31.0v3.0M334.60 203.0v1.7M334.60 31.0v1.6M340.70 203.0v1.7M340.70 31.0v1.6M346.80 203.0v1.7M346.80 31.0v1.6M352.90 203.0v1.7M352.90 31.0v1.6M359.00 203.0v3.0M359.00 31.0v3.0M365.10 203.0v1.7M365.10 31.0v1.6M371.20 203.0v1.7M371.20 31.0v1.6M377.30 203.0v1.7M377.30 31.0v1.6M383.40 203.0v1.7M383.40 31.0v1.6M389.50 203.0v3.0M389.50 31.0v3.0M395.60 203.0v1.7M395.60 31.0v1.6M401.70 203.0v1.7M401.70 31.0v1.6M407.80 203.0v1.7M407.80 31.0v1.6M413.90 203.0v1.7M413.90 31.0v1.6M420.00 203.0v3.0M420.00 31.0v3.0M426.10 203.0v1.7M426.10 31.0v1.6M432.20 203.0v1.7M432.20 31.0v1.6M438.30 203.0v1.7M438.30 31.0v1.6M444.40 203.0v1.7M444.40 31.0v1.6M450.50 203.0v3.0M450.50 31.0v3.0M456.60 203.0v1.7M456.60 31.0v1.6M462.70 203.0v1.7M462.70 31.0v1.6M468.80 203.0v1.7M468.80 31.0v1.6M474.90 203.0v1.7M474.90 31.0v1.6M481.00 203.0v3.0M481.00 31.0v3.0M487.10 203.0v1.7M487.10 31.0v1.6M493.20 203.0v1.7M493.20 31.0v1.6M499.30 203.0v1.7M499.30 31.0v1.6M505.40 203.0v1.7M505.40 31.0v1.6M511.50 203.0v3.0M511.50 31.0v3.0M517.60 203.0v1.7M517.60 31.0v1.6M523.70 203.0v1.7M523.70 31.0v1.6M529.80 203.0v1.7M529.80 31.0v1.6M535.90 203.0v1.7M535.90 31.0v1.6M542.00 203.0v3.0M542.00 31.0v3.0M298.0 203.00h-3.3M542.0 203.00h-3.0M298.0 200.35h-1.7M542.0 200.35h-1.6M298.0 197.71h-1.7M542.0 197.71h-1.6M298.0 195.06h-1.7M542.0 195.06h-1.6M298.0 192.42h-1.7M542.0 192.42h-1.6M298.0 189.77h-3.3M542.0 189.77h-3.0M298.0 187.12h-1.7M542.0 187.12h-1.6M298.0 184.48h-1.7M542.0 184.48h-1.6M298.0 181.83h-1.7M542.0 181.83h-1.6M298.0 179.18h-1.7M542.0 179.18h-1.6M298.0 176.54h-3.3M542.0 176.54h-3.0M298.0 173.89h-1.7M542.0 173.89h-1.6M298.0 171.25h-1.7M542.0 171.25h-1.6M298.0 168.60h-1.7M542.0 168.60h-1.6M298.0 165.95h-1.7M542.0 165.95h-1.6M298.0 163.31h-3.3M542.0 163.31h-3.0M298.0 160.66h-1.7M542.0 160.66h-1.6M298.0 158.02h-1.7M542.0 158.02h-1.6M298.0 155.37h-1.7M542.0 155.37h-1.6M298.0 152.72h-1.7M542.0 152.72h-1.6M298.0 150.08h-3.3M542.0 150.08h-3.0M298.0 147.43h-1.7M542.0 147.43h-1.6M298.0 144.78h-1.7M542.0 144.78h-1.6M298.0 142.14h-1.7M542.0 142.14h-1.6M298.0 139.49h-1.7M542.0 139.49h-1.6M298.0 136.85h-3.3M542.0 136.85h-3.0M298.0 134.20h-1.7M542.0 134.20h-1.6M298.0 131.55h-1.7M542.0 131.55h-1.6M298.0 128.91h-1.7M542.0 128.91h-1.6M298.0 126.26h-1.7M542.0 126.26h-1.6M298.0 123.62h-3.3M542.0 123.62h-3.0M298.0 120.97h-1.7M542.0 120.97h-1.6M298.0 118.32h-1.7M542.0 118.32h-1.6M298.0 115.68h-1.7M542.0 115.68h-1.6M298.0 113.03h-1.7M542.0 113.03h-1.6M298.0 110.38h-3.3M542.0 110.38h-3.0M298.0 107.74h-1.7M542.0 107.74h-1.6M298.0 105.09h-1.7M542.0 105.09h-1.6M298.0 102.45h-1.7M542.0 102.45h-1.6M298.0 99.80h-1.7M542.0 99.80h-1.6M298.0 97.15h-3.3M542.0 97.15h-3.0M298.0 94.51h-1.7M542.0 94.51h-1.6M298.0 91.86h-1.7M542.0 91.86h-1.6M298.0 89.22h-1.7M542.0 89.22h-1.6M298.0 86.57h-1.7M542.0 86.57h-1.6M298.0 83.92h-3.3M542.0 83.92h-3.0M298.0 81.28h-1.7M542.0 81.28h-1.6M298.0 78.63h-1.7M542.0 78.63h-1.6M298.0 75.98h-1.7M542.0 75.98h-1.6M298.0 73.34h-1.7M542.0 73.34h-1.6M298.0 70.69h-3.3M542.0 70.69h-3.0M298.0 68.05h-1.7M542.0 68.05h-1.6M298.0 65.40h-1.7M542.0 65.40h-1.6M298.0 62.75h-1.7M542.0 62.75h-1.6M298.0 60.11h-1.7M542.0 60.11h-1.6M298.0 57.46h-3.3M542.0 57.46h-3.0M298.0 54.82h-1.7M542.0 54.82h-1.6M298.0 52.17h-1.7M542.0 52.17h-1.6M298.0 49.52h-1.7M542.0 49.52h-1.6M298.0 46.88h-1.7M542.0 46.88h-1.6M298.0 44.23h-3.3M542.0 44.23h-3.0M298.0 41.58h-1.7M542.0 41.58h-1.6M298.0 38.94h-1.7M542.0 38.94h-1.6M298.0 36.29h-1.7M542.0 36.29h-1.6M298.0 33.65h-1.7M542.0 33.65h-1.6M298.0 31.00h-3.3M542.0 31.00h-3.0" stroke="#000" stroke-width="0.8" fill="none"/>
<text x="298.00" y="216.6" text-anchor="middle" class="tk">2</text>
<text x="328.50" y="216.6" text-anchor="middle" class="tk">3</text>
<text x="359.00" y="216.6" text-anchor="middle" class="tk">4</text>
<text x="389.50" y="216.6" text-anchor="middle" class="tk">5</text>
<text x="420.00" y="216.6" text-anchor="middle" class="tk">6</text>
<text x="450.50" y="216.6" text-anchor="middle" class="tk">7</text>
<text x="481.00" y="216.6" text-anchor="middle" class="tk">8</text>
<text x="511.50" y="216.6" text-anchor="middle" class="tk">9</text>
<text x="542.00" y="216.6" text-anchor="middle" class="tk">10</text>
<text x="292.2" y="205.50" text-anchor="end" class="tk">3</text>
<text x="292.2" y="192.27" text-anchor="end" class="tk">4</text>
<text x="292.2" y="179.04" text-anchor="end" class="tk">5</text>
<text x="292.2" y="165.81" text-anchor="end" class="tk">6</text>
<text x="292.2" y="152.58" text-anchor="end" class="tk">7</text>
<text x="292.2" y="139.35" text-anchor="end" class="tk">8</text>
<text x="292.2" y="126.12" text-anchor="end" class="tk">9</text>
<text x="292.2" y="112.88" text-anchor="end" class="tk">10</text>
<text x="292.2" y="99.65" text-anchor="end" class="tk">11</text>
<text x="292.2" y="86.42" text-anchor="end" class="tk">12</text>
<text x="292.2" y="73.19" text-anchor="end" class="tk">13</text>
<text x="292.2" y="59.96" text-anchor="end" class="tk">14</text>
<text x="292.2" y="46.73" text-anchor="end" class="tk">15</text>
<text x="292.2" y="33.50" text-anchor="end" class="tk">16</text>
<polyline points="313.20,195.40 328.50,161.70 343.75,138.40 359.00,113.30 374.50,94.50 389.50,114.90 404.75,87.00 420.00,65.40 435.25,66.00 450.50,73.00 465.75,68.30 481.00,65.20 496.00,103.30 511.50,57.40 526.75,45.50 542.00,79.00" fill="none" stroke="#ff0000" stroke-width="1.2" stroke-dasharray="6.5 2.6"/>
<polyline points="313.20,140.80 328.50,119.20 343.75,121.70 359.00,99.00 374.50,86.00 389.50,95.00 404.75,68.80 420.00,55.60 435.25,51.00 450.50,64.50 465.75,68.30 481.00,44.80 496.00,54.80 511.50,39.60 526.75,56.90 542.00,66.50" fill="none" stroke="#00ff00" stroke-width="1.2" stroke-dasharray="6.5 2 1.2 2"/>
<path d="M351.4 169.6h15.6" stroke="#ff0000" stroke-width="1.2" stroke-dasharray="6.5 2.6" fill="none"/>
<path d="M351.4 178.6h15.6" stroke="#00ff00" stroke-width="1.2" stroke-dasharray="6.5 2 1.2 2" fill="none"/>
<text x="370.5" y="172.2" class="lg" textLength="82.8" lengthAdjust="spacingAndGlyphs">Simulated six vivaldi array</text>
<text x="370.5" y="181.2" class="lg" textLength="89.5" lengthAdjust="spacingAndGlyphs">Simulated eight vivaldi array</text>
<text x="420" y="233.2" text-anchor="middle" class="ax" textLength="60" lengthAdjust="spacingAndGlyphs">Frequency (GHz)</text>
<text transform="translate(277.6 116.2) rotate(-90)" text-anchor="middle" class="ax" textLength="66.4" lengthAdjust="spacingAndGlyphs">Realized gain (dBi)</text>
<text x="410.3" y="255.6" text-anchor="middle" class="cap">(<tspan font-weight="bold">b</tspan>)</text>
<text x="128.5" y="255.6" text-anchor="middle" class="cap">(<tspan font-weight="bold">a</tspan>)</text>
</g>
</svg>
</body></html>
